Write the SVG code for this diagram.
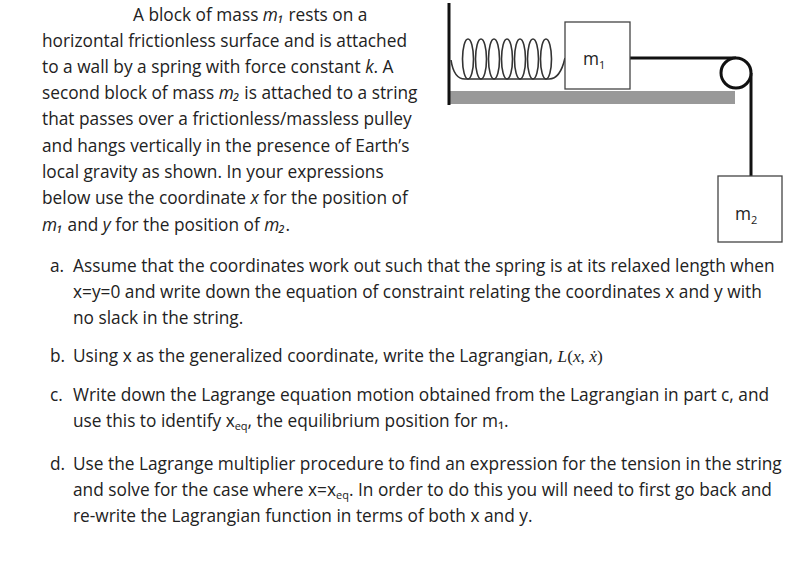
<svg xmlns="http://www.w3.org/2000/svg" width="805" height="588" viewBox="0 0 805 588">
<style>
text{font-family:"Open Sans","Liberation Sans",sans-serif;font-size:17.3px;fill:#222}
.i{font-style:italic}
.box{fill:#fff;stroke:#444;stroke-width:1.3}
.ln{stroke:#111;stroke-width:3;fill:none}
.coil{fill:none;stroke:#333;stroke-width:1.6}
</style>
<rect width="805" height="588" fill="#fff"/>
<g id="text">
<text x="133" y="21">A block of mass <tspan class="i">m₁</tspan> rests on a</text>
<text x="42" y="47">horizontal frictionless surface and is attached</text>
<text x="42" y="73">to a wall by a spring with force constant <tspan class="i">k</tspan>. A</text>
<text x="42" y="99">second block of mass <tspan class="i">m₂</tspan> is attached to a string</text>
<text x="42" y="125">that passes over a frictionless/massless pulley</text>
<text x="42" y="152">and hangs vertically in the presence of Earth’s</text>
<text x="42" y="178">local gravity as shown. In your expressions</text>
<text x="42" y="204">below use the coordinate <tspan class="i">x</tspan> for the position of</text>
<text x="42" y="231"><tspan class="i">m₁</tspan> and <tspan class="i">y</tspan> for the position of <tspan class="i">m₂</tspan>.</text>
<text x="50" y="272">a.</text>
<text x="73" y="272">Assume that the coordinates work out such that the spring is at its relaxed length when</text>
<text x="73" y="298">x=y=0 and write down the equation of constraint relating the coordinates x and y with</text>
<text x="73" y="324">no slack in the string.</text>
<text x="50" y="362">b.</text>
<text x="73" y="362">Using x as the generalized coordinate, write the Lagrangian, <tspan font-family="Liberation Serif,serif" class="i">L</tspan><tspan font-family="Liberation Serif,serif">(</tspan><tspan font-family="Liberation Serif,serif" class="i">x</tspan><tspan font-family="Liberation Serif,serif">, </tspan><tspan font-family="Liberation Serif,serif" class="i">ẋ</tspan><tspan font-family="Liberation Serif,serif">)</tspan></text>
<text x="50" y="401">c.</text>
<text x="73" y="401">Write down the Lagrange equation motion obtained from the Lagrangian in part c, and</text>
<text x="73" y="427">use this to identify x<tspan font-size="11" dy="3">eq</tspan><tspan dy="-3">, the equilibrium position for m₁.</tspan></text>
<text x="50" y="470">d.</text>
<text x="73" y="470">Use the Lagrange multiplier procedure to find an expression for the tension in the string</text>
<text x="73" y="496">and solve for the case where x=x<tspan font-size="11" dy="3">eq</tspan><tspan dy="-3">. In order to do this you will need to first go back and</tspan></text>
<text x="73" y="522">re-write the Lagrangian function in terms of both x and y.</text>
</g>
<g id="ground"><rect x="450" y="91" width="285" height="13" fill="#999"/><line x1="449" y1="3" x2="449" y2="105" stroke="#111" stroke-width="3"/></g>
<g id="spring">
<path class="coil" d="M451,60 Q454,80 466,79 L548,79 Q560,80 565,58"/>
<ellipse class="coil" cx="468" cy="59" rx="5.5" ry="20"/>
<ellipse class="coil" cx="481" cy="59" rx="5.5" ry="20"/>
<ellipse class="coil" cx="494" cy="59" rx="5.5" ry="20"/>
<ellipse class="coil" cx="507" cy="59" rx="5.5" ry="20"/>
<ellipse class="coil" cx="520" cy="59" rx="5.5" ry="20"/>
<ellipse class="coil" cx="533" cy="59" rx="5.5" ry="20"/>
<ellipse class="coil" cx="546" cy="59" rx="5.5" ry="20"/>
</g>
<g id="connectors"><path class="ln" d="M630,58 L736,58"/><path class="ln" d="M751,73 L751,176"/></g>
<g id="pulley"><circle cx="736" cy="73" r="15" fill="#fff" stroke="#111" stroke-width="3"/></g>
<g id="m1"><rect class="box" x="565" y="22" width="65" height="67"/><text x="583" y="65">m<tspan font-size="11" dy="4">1</tspan></text></g>
<g id="m2"><rect class="box" x="718" y="176" width="64" height="66"/><text x="735" y="220">m<tspan font-size="11" dy="4">2</tspan></text></g>
</svg>
